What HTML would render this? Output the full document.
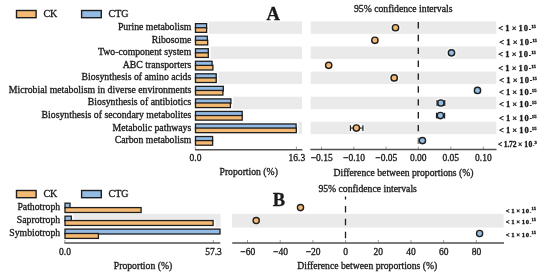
<!DOCTYPE html>
<html><head><meta charset="utf-8"><style>
html,body{margin:0;padding:0;background:#fff;width:550px;height:277px;overflow:hidden}
svg{display:block;filter:blur(0.35px)}
text{font-family:'Liberation Serif',serif;stroke:#1a1a1a;stroke-width:0.32px}
</style></head><body>
<svg width="550" height="277" viewBox="0 0 550 277">
<rect width="550" height="277" fill="#fff"/>
<rect x="16.5" y="10.5" width="19.6" height="7.2" fill="#F4B972" stroke="#1E1E1E" stroke-width="1.4"/>
<text x="43.4" y="17.3" font-size="10" fill="#1A1A1A">CK</text>
<rect x="81.6" y="10.5" width="19.7" height="7.2" fill="#93BBE3" stroke="#1E1E1E" stroke-width="1.4"/>
<text x="108.6" y="17.3" font-size="10" fill="#1A1A1A">CTG</text>
<text x="266.5" y="19.6" font-size="18.5" font-weight="bold" fill="#1A1A1A">A</text>
<text x="354" y="12.3" font-size="9.7" fill="#1A1A1A">95% confidence intervals</text>
<rect x="195" y="21.45" width="107" height="12.4" fill="#EBEAEA"/>
<rect x="310.7" y="21.45" width="185.6" height="12.4" fill="#EBEAEA"/>
<rect x="195" y="46.53" width="107" height="12.4" fill="#EBEAEA"/>
<rect x="310.7" y="46.53" width="185.6" height="12.4" fill="#EBEAEA"/>
<rect x="195" y="71.61" width="107" height="12.4" fill="#EBEAEA"/>
<rect x="310.7" y="71.61" width="185.6" height="12.4" fill="#EBEAEA"/>
<rect x="195" y="96.69" width="107" height="12.4" fill="#EBEAEA"/>
<rect x="310.7" y="96.69" width="185.6" height="12.4" fill="#EBEAEA"/>
<rect x="195" y="121.77" width="107" height="12.4" fill="#EBEAEA"/>
<rect x="310.7" y="121.77" width="185.6" height="12.4" fill="#EBEAEA"/>
<rect x="194" y="21.65" width="14.90" height="6.1" fill="#fff"/>
<rect x="194" y="27.75" width="14.90" height="6.1" fill="#fff"/>
<rect x="195.5" y="23.65" width="11.10" height="4.6" fill="#93BBE3" stroke="#1E1E1E" stroke-width="1.3"/>
<rect x="195.5" y="27.75" width="11.10" height="4.6" fill="#F4B972" stroke="#1E1E1E" stroke-width="1.3"/>
<text x="191.3" y="30.25" font-size="9.75" text-anchor="end" fill="#1A1A1A">Purine metabolism</text>
<rect x="194" y="34.19" width="15.60" height="6.1" fill="#fff"/>
<rect x="194" y="40.29" width="16.00" height="6.1" fill="#fff"/>
<rect x="195.5" y="36.19" width="11.80" height="4.6" fill="#93BBE3" stroke="#1E1E1E" stroke-width="1.3"/>
<rect x="195.5" y="40.29" width="12.20" height="4.6" fill="#F4B972" stroke="#1E1E1E" stroke-width="1.3"/>
<text x="191.3" y="42.79" font-size="9.75" text-anchor="end" fill="#1A1A1A">Ribosome</text>
<rect x="194" y="46.73" width="16.60" height="6.1" fill="#fff"/>
<rect x="194" y="52.83" width="16.60" height="6.1" fill="#fff"/>
<rect x="195.5" y="48.73" width="12.80" height="4.6" fill="#93BBE3" stroke="#1E1E1E" stroke-width="1.3"/>
<rect x="195.5" y="52.83" width="12.80" height="4.6" fill="#F4B972" stroke="#1E1E1E" stroke-width="1.3"/>
<text x="191.3" y="55.33" font-size="9.75" text-anchor="end" fill="#1A1A1A">Two-component system</text>
<rect x="194" y="59.27" width="20.40" height="6.1" fill="#fff"/>
<rect x="194" y="65.37" width="21.20" height="6.1" fill="#fff"/>
<rect x="195.5" y="61.27" width="16.60" height="4.6" fill="#93BBE3" stroke="#1E1E1E" stroke-width="1.3"/>
<rect x="195.5" y="65.37" width="17.40" height="4.6" fill="#F4B972" stroke="#1E1E1E" stroke-width="1.3"/>
<text x="191.3" y="67.87" font-size="9.75" text-anchor="end" fill="#1A1A1A">ABC transporters</text>
<rect x="194" y="71.81" width="24.50" height="6.1" fill="#fff"/>
<rect x="194" y="77.91" width="24.50" height="6.1" fill="#fff"/>
<rect x="195.5" y="73.81" width="20.70" height="4.6" fill="#93BBE3" stroke="#1E1E1E" stroke-width="1.3"/>
<rect x="195.5" y="77.91" width="20.70" height="4.6" fill="#F4B972" stroke="#1E1E1E" stroke-width="1.3"/>
<text x="191.3" y="80.41" font-size="9.75" text-anchor="end" fill="#1A1A1A">Biosynthesis of amino acids</text>
<rect x="194" y="84.35" width="31.60" height="6.1" fill="#fff"/>
<rect x="194" y="90.45" width="31.20" height="6.1" fill="#fff"/>
<rect x="195.5" y="86.35" width="27.80" height="4.6" fill="#93BBE3" stroke="#1E1E1E" stroke-width="1.3"/>
<rect x="195.5" y="90.45" width="27.40" height="4.6" fill="#F4B972" stroke="#1E1E1E" stroke-width="1.3"/>
<text x="191.3" y="92.95" font-size="9.75" text-anchor="end" fill="#1A1A1A">Microbial metabolism in diverse environments</text>
<rect x="194" y="96.89" width="39.20" height="6.1" fill="#fff"/>
<rect x="194" y="102.99" width="38.70" height="6.1" fill="#fff"/>
<rect x="195.5" y="98.89" width="35.40" height="4.6" fill="#93BBE3" stroke="#1E1E1E" stroke-width="1.3"/>
<rect x="195.5" y="102.99" width="34.90" height="4.6" fill="#F4B972" stroke="#1E1E1E" stroke-width="1.3"/>
<text x="191.3" y="105.49" font-size="9.75" text-anchor="end" fill="#1A1A1A">Biosynthesis of antibiotics</text>
<rect x="194" y="109.43" width="50.50" height="6.1" fill="#fff"/>
<rect x="194" y="115.53" width="50.50" height="6.1" fill="#fff"/>
<rect x="195.5" y="111.43" width="46.70" height="4.6" fill="#93BBE3" stroke="#1E1E1E" stroke-width="1.3"/>
<rect x="195.5" y="115.53" width="46.70" height="4.6" fill="#F4B972" stroke="#1E1E1E" stroke-width="1.3"/>
<text x="191.3" y="118.03" font-size="9.75" text-anchor="end" fill="#1A1A1A">Biosynthesis of secondary metabolites</text>
<rect x="194" y="121.97" width="104.40" height="6.1" fill="#fff"/>
<rect x="194" y="128.07" width="104.60" height="6.1" fill="#fff"/>
<rect x="195.5" y="123.97" width="100.60" height="4.6" fill="#93BBE3" stroke="#1E1E1E" stroke-width="1.3"/>
<rect x="195.5" y="128.07" width="100.80" height="4.6" fill="#F4B972" stroke="#1E1E1E" stroke-width="1.3"/>
<text x="191.3" y="130.57" font-size="9.75" text-anchor="end" fill="#1A1A1A">Metabolic pathways</text>
<rect x="194" y="134.51" width="20.90" height="6.1" fill="#fff"/>
<rect x="194" y="140.61" width="20.90" height="6.1" fill="#fff"/>
<rect x="195.5" y="136.51" width="17.10" height="4.6" fill="#93BBE3" stroke="#1E1E1E" stroke-width="1.3"/>
<rect x="195.5" y="140.61" width="17.10" height="4.6" fill="#F4B972" stroke="#1E1E1E" stroke-width="1.3"/>
<text x="191.3" y="143.11" font-size="9.75" text-anchor="end" fill="#1A1A1A">Carbon metabolism</text>
<line x1="418.3" y1="22" x2="418.3" y2="144" stroke="#1E1E1E" stroke-width="1.35" stroke-dasharray="6.4 6.46"/>
<circle cx="395.5" cy="27.75" r="5.6" fill="#fff" opacity="0.45"/>
<circle cx="395.5" cy="27.75" r="3.15" fill="#F4B972" stroke="#1E1E1E" stroke-width="1.4"/>
<text x="498.3" y="31.1" font-size="8.5" font-weight="bold" fill="#1A1A1A">&lt; 1 × <tspan letter-spacing="0.9">10</tspan><tspan font-size="5.5" dy="-0.4">-</tspan><tspan font-size="4.8" dx="0.4" dy="-2.6">15</tspan></text>
<circle cx="374.9" cy="40.29" r="5.6" fill="#fff" opacity="0.45"/>
<circle cx="374.9" cy="40.29" r="3.15" fill="#F4B972" stroke="#1E1E1E" stroke-width="1.4"/>
<text x="499.3" y="44.8" font-size="8.5" font-weight="bold" fill="#1A1A1A">&lt; 1 × <tspan letter-spacing="0.9">10</tspan><tspan font-size="5.5" dy="-0.4">-</tspan><tspan font-size="4.8" dx="0.4" dy="-2.6">15</tspan></text>
<circle cx="451.5" cy="52.83" r="5.6" fill="#fff" opacity="0.45"/>
<circle cx="451.5" cy="52.83" r="3.15" fill="#93BBE3" stroke="#1E1E1E" stroke-width="1.4"/>
<text x="498.3" y="56.9" font-size="8.5" font-weight="bold" fill="#1A1A1A">&lt; 1 × <tspan letter-spacing="0.9">10</tspan><tspan font-size="5.5" dy="-0.4">-</tspan><tspan font-size="4.8" dx="0.4" dy="-2.6">15</tspan></text>
<circle cx="328.7" cy="65.37" r="5.6" fill="#fff" opacity="0.45"/>
<circle cx="328.7" cy="65.37" r="3.15" fill="#F4B972" stroke="#1E1E1E" stroke-width="1.4"/>
<text x="498.3" y="70.6" font-size="8.5" font-weight="bold" fill="#1A1A1A">&lt; 1 × <tspan letter-spacing="0.9">10</tspan><tspan font-size="5.5" dy="-0.4">-</tspan><tspan font-size="4.8" dx="0.4" dy="-2.6">15</tspan></text>
<circle cx="394.2" cy="77.91" r="5.6" fill="#fff" opacity="0.45"/>
<circle cx="394.2" cy="77.91" r="3.15" fill="#F4B972" stroke="#1E1E1E" stroke-width="1.4"/>
<text x="499.3" y="82.6" font-size="8.5" font-weight="bold" fill="#1A1A1A">&lt; 1 × <tspan letter-spacing="0.9">10</tspan><tspan font-size="5.5" dy="-0.4">-</tspan><tspan font-size="4.8" dx="0.4" dy="-2.6">15</tspan></text>
<circle cx="477.5" cy="90.45" r="5.6" fill="#fff" opacity="0.45"/>
<circle cx="477.5" cy="90.45" r="3.15" fill="#93BBE3" stroke="#1E1E1E" stroke-width="1.4"/>
<text x="499" y="94.9" font-size="8.5" font-weight="bold" fill="#1A1A1A">&lt; 1 × <tspan letter-spacing="0.9">10</tspan><tspan font-size="5.5" dy="-0.4">-</tspan><tspan font-size="4.8" dx="0.4" dy="-2.6">15</tspan></text>
<circle cx="440.9" cy="102.99" r="5.6" fill="#fff" opacity="0.45"/>
<rect x="435.0" y="98.39" width="11.800000000000011" height="9.2" rx="3" fill="#fff" opacity="0.45"/>
<line x1="437.0" y1="102.99" x2="444.8" y2="102.99" stroke="#1E1E1E" stroke-width="1"/>
<line x1="437.0" y1="100.09" x2="437.0" y2="105.89" stroke="#1E1E1E" stroke-width="1.15"/>
<line x1="444.8" y1="100.09" x2="444.8" y2="105.89" stroke="#1E1E1E" stroke-width="1.15"/>
<circle cx="440.9" cy="102.99" r="3.15" fill="#93BBE3" stroke="#1E1E1E" stroke-width="1.4"/>
<text x="499" y="106.9" font-size="8.5" font-weight="bold" fill="#1A1A1A">&lt; 1 × <tspan letter-spacing="0.9">10</tspan><tspan font-size="5.5" dy="-0.4">-</tspan><tspan font-size="4.8" dx="0.4" dy="-2.6">15</tspan></text>
<circle cx="440.4" cy="115.53" r="5.6" fill="#fff" opacity="0.45"/>
<rect x="434.5" y="110.93" width="12.100000000000023" height="9.2" rx="3" fill="#fff" opacity="0.45"/>
<line x1="436.5" y1="115.53" x2="444.6" y2="115.53" stroke="#1E1E1E" stroke-width="1"/>
<line x1="436.5" y1="112.63" x2="436.5" y2="118.43" stroke="#1E1E1E" stroke-width="1.15"/>
<line x1="444.6" y1="112.63" x2="444.6" y2="118.43" stroke="#1E1E1E" stroke-width="1.15"/>
<circle cx="440.4" cy="115.53" r="3.15" fill="#93BBE3" stroke="#1E1E1E" stroke-width="1.4"/>
<text x="499" y="120.6" font-size="8.5" font-weight="bold" fill="#1A1A1A">&lt; 1 × <tspan letter-spacing="0.9">10</tspan><tspan font-size="5.5" dy="-0.4">-</tspan><tspan font-size="4.8" dx="0.4" dy="-2.6">15</tspan></text>
<circle cx="356.4" cy="128.07" r="5.6" fill="#fff" opacity="0.45"/>
<rect x="348.4" y="123.47" width="16.5" height="9.2" rx="3" fill="#fff" opacity="0.45"/>
<line x1="350.4" y1="128.07" x2="362.9" y2="128.07" stroke="#1E1E1E" stroke-width="1"/>
<line x1="350.4" y1="125.17" x2="350.4" y2="130.97" stroke="#1E1E1E" stroke-width="1.15"/>
<line x1="362.9" y1="125.17" x2="362.9" y2="130.97" stroke="#1E1E1E" stroke-width="1.15"/>
<circle cx="356.4" cy="128.07" r="3.15" fill="#F4B972" stroke="#1E1E1E" stroke-width="1.4"/>
<text x="499" y="133.2" font-size="8.5" font-weight="bold" fill="#1A1A1A">&lt; 1 × <tspan letter-spacing="0.9">10</tspan><tspan font-size="5.5" dy="-0.4">-</tspan><tspan font-size="4.8" dx="0.4" dy="-2.6">15</tspan></text>
<circle cx="422.4" cy="140.61" r="5.6" fill="#fff" opacity="0.45"/>
<circle cx="422.4" cy="140.61" r="3.15" fill="#93BBE3" stroke="#1E1E1E" stroke-width="1.4"/>
<text x="498" y="146.6" font-size="7.6" font-weight="bold" fill="#1A1A1A" letter-spacing="-0.2">&lt; 1.72 ×<tspan dx="2" letter-spacing="0.5">10</tspan><tspan font-size="5" dy="-0.3">-</tspan><tspan font-size="4.6" dx="0.3" dy="-2.6">3</tspan></text>
<line x1="195" y1="149.8" x2="302.3" y2="149.8" stroke="#505050" stroke-width="1.5"/>
<line x1="195.3" y1="146.6" x2="195.3" y2="149.8" stroke="#555" stroke-width="0.6"/>
<line x1="296.4" y1="146.6" x2="296.4" y2="149.8" stroke="#555" stroke-width="0.6"/>
<text x="195.5" y="161" font-size="9.5" text-anchor="middle" fill="#1A1A1A">0.0</text>
<text x="296.9" y="161" font-size="9.5" text-anchor="middle" fill="#1A1A1A">16.3</text>
<text x="248.7" y="175.3" font-size="9.7" text-anchor="middle" fill="#1A1A1A">Proportion (%)</text>
<line x1="310.3" y1="149.6" x2="496.5" y2="149.6" stroke="#505050" stroke-width="1.5"/>
<line x1="321.5" y1="146.6" x2="321.5" y2="149.6" stroke="#555" stroke-width="0.6"/>
<text x="321.75" y="161" font-size="9.5" text-anchor="middle" fill="#1A1A1A">−<tspan dx="0.5"></tspan>0.15</text>
<line x1="353.8" y1="146.6" x2="353.8" y2="149.6" stroke="#555" stroke-width="0.6"/>
<text x="354.05" y="161" font-size="9.5" text-anchor="middle" fill="#1A1A1A">−<tspan dx="0.5"></tspan>0.10</text>
<line x1="386.1" y1="146.6" x2="386.1" y2="149.6" stroke="#555" stroke-width="0.6"/>
<text x="386.35" y="161" font-size="9.5" text-anchor="middle" fill="#1A1A1A">−<tspan dx="0.5"></tspan>0.05</text>
<line x1="418.3" y1="146.6" x2="418.3" y2="149.6" stroke="#555" stroke-width="0.6"/>
<text x="418.3" y="161" font-size="9.5" text-anchor="middle" fill="#1A1A1A">0.00</text>
<line x1="450.8" y1="146.6" x2="450.8" y2="149.6" stroke="#555" stroke-width="0.6"/>
<text x="450.8" y="161" font-size="9.5" text-anchor="middle" fill="#1A1A1A">0.05</text>
<line x1="483.4" y1="146.6" x2="483.4" y2="149.6" stroke="#555" stroke-width="0.6"/>
<text x="483.4" y="161" font-size="9.5" text-anchor="middle" fill="#1A1A1A">0.10</text>
<text x="403.6" y="175.5" font-size="9.7" text-anchor="middle" fill="#1A1A1A">Difference between proportions (%)</text>
<rect x="16.5" y="190.5" width="19.6" height="7.2" fill="#F4B972" stroke="#1E1E1E" stroke-width="1.4"/>
<text x="43.4" y="197.3" font-size="10" fill="#1A1A1A">CK</text>
<rect x="81.6" y="190.5" width="19.7" height="7.2" fill="#93BBE3" stroke="#1E1E1E" stroke-width="1.4"/>
<text x="108.6" y="197.3" font-size="10" fill="#1A1A1A">CTG</text>
<text x="272.8" y="206.4" font-size="18.5" font-weight="bold" fill="#1A1A1A">B</text>
<text x="318.4" y="191.5" font-size="9.7" fill="#1A1A1A">95% confidence intervals</text>
<rect x="64.5" y="213.85" width="156" height="13.7" fill="#EBEAEA"/>
<rect x="232" y="213.85" width="271.6" height="13.7" fill="#EBEAEA"/>
<rect x="63.5" y="201.20" width="8.80" height="6.4" fill="#fff"/>
<rect x="63.5" y="207.60" width="79.90" height="6.4" fill="#fff"/>
<rect x="65" y="203.20" width="5.00" height="4.9" fill="#93BBE3" stroke="#1E1E1E" stroke-width="1.3"/>
<rect x="65" y="207.60" width="76.10" height="4.9" fill="#F4B972" stroke="#1E1E1E" stroke-width="1.3"/>
<text x="60.2" y="210.00" font-size="9.75" text-anchor="end" fill="#1A1A1A">Pathotroph</text>
<text x="505.8" y="212.8" font-size="6.7" font-weight="bold" fill="#1A1A1A">&lt; 1 × <tspan letter-spacing="0.6">10</tspan><tspan font-size="4.6" dy="-0.2">-</tspan><tspan font-size="4.4" dx="0.3" dy="-2.3">15</tspan></text>
<rect x="63.5" y="214.15" width="10.10" height="6.4" fill="#fff"/>
<rect x="63.5" y="220.55" width="151.90" height="6.4" fill="#fff"/>
<rect x="65" y="216.15" width="6.30" height="4.9" fill="#93BBE3" stroke="#1E1E1E" stroke-width="1.3"/>
<rect x="65" y="220.55" width="148.10" height="4.9" fill="#F4B972" stroke="#1E1E1E" stroke-width="1.3"/>
<text x="60.2" y="222.95" font-size="9.75" text-anchor="end" fill="#1A1A1A">Saprotroph</text>
<text x="505.8" y="223.7" font-size="6.7" font-weight="bold" fill="#1A1A1A">&lt; 1 × <tspan letter-spacing="0.6">10</tspan><tspan font-size="4.6" dy="-0.2">-</tspan><tspan font-size="4.4" dx="0.3" dy="-2.3">15</tspan></text>
<rect x="63.5" y="227.10" width="158.80" height="6.4" fill="#fff"/>
<rect x="63.5" y="233.50" width="37.20" height="6.4" fill="#fff"/>
<rect x="65" y="229.10" width="155.00" height="4.9" fill="#93BBE3" stroke="#1E1E1E" stroke-width="1.3"/>
<rect x="65" y="233.50" width="33.40" height="4.9" fill="#F4B972" stroke="#1E1E1E" stroke-width="1.3"/>
<text x="60.2" y="235.90" font-size="9.75" text-anchor="end" fill="#1A1A1A">Symbiotroph</text>
<text x="505.8" y="236.7" font-size="6.7" font-weight="bold" fill="#1A1A1A">&lt; 1 × <tspan letter-spacing="0.6">10</tspan><tspan font-size="4.6" dy="-0.2">-</tspan><tspan font-size="4.4" dx="0.3" dy="-2.3">15</tspan></text>
<line x1="345.5" y1="196.5" x2="345.5" y2="238.5" stroke="#1E1E1E" stroke-width="1.3" stroke-dasharray="6.5 6.4" stroke-dashoffset="3.5"/>
<circle cx="300.5" cy="207.60" r="3.1" fill="#F4B972" stroke="#1E1E1E" stroke-width="1.35"/>
<circle cx="256.2" cy="220.55" r="3.1" fill="#F4B972" stroke="#1E1E1E" stroke-width="1.35"/>
<circle cx="479.6" cy="233.50" r="3.1" fill="#93BBE3" stroke="#1E1E1E" stroke-width="1.35"/>
<line x1="64.5" y1="243.1" x2="220.3" y2="243.1" stroke="#505050" stroke-width="1.5"/>
<line x1="64.8" y1="240" x2="64.8" y2="243.1" stroke="#555" stroke-width="0.6"/>
<line x1="213.3" y1="240" x2="213.3" y2="243.1" stroke="#555" stroke-width="0.6"/>
<text x="65" y="254.5" font-size="9.5" text-anchor="middle" fill="#1A1A1A">0.0</text>
<text x="213.5" y="254.5" font-size="9.5" text-anchor="middle" fill="#1A1A1A">57.3</text>
<text x="143" y="269.3" font-size="9.7" text-anchor="middle" fill="#1A1A1A">Proportion (%)</text>
<line x1="232.2" y1="243.1" x2="504" y2="243.1" stroke="#505050" stroke-width="1.5"/>
<line x1="247.50" y1="240" x2="247.50" y2="243.1" stroke="#555" stroke-width="0.6"/>
<text x="247.75" y="254.5" font-size="9.5" text-anchor="middle" fill="#1A1A1A">−<tspan dx="0.5"></tspan>60</text>
<line x1="280.20" y1="240" x2="280.20" y2="243.1" stroke="#555" stroke-width="0.6"/>
<text x="280.45" y="254.5" font-size="9.5" text-anchor="middle" fill="#1A1A1A">−<tspan dx="0.5"></tspan>40</text>
<line x1="312.90" y1="240" x2="312.90" y2="243.1" stroke="#555" stroke-width="0.6"/>
<text x="313.15" y="254.5" font-size="9.5" text-anchor="middle" fill="#1A1A1A">−<tspan dx="0.5"></tspan>20</text>
<line x1="345.60" y1="240" x2="345.60" y2="243.1" stroke="#555" stroke-width="0.6"/>
<text x="345.60" y="254.5" font-size="9.5" text-anchor="middle" fill="#1A1A1A">0</text>
<line x1="378.30" y1="240" x2="378.30" y2="243.1" stroke="#555" stroke-width="0.6"/>
<text x="378.30" y="254.5" font-size="9.5" text-anchor="middle" fill="#1A1A1A">20</text>
<line x1="411.00" y1="240" x2="411.00" y2="243.1" stroke="#555" stroke-width="0.6"/>
<text x="411.00" y="254.5" font-size="9.5" text-anchor="middle" fill="#1A1A1A">40</text>
<line x1="443.70" y1="240" x2="443.70" y2="243.1" stroke="#555" stroke-width="0.6"/>
<text x="443.70" y="254.5" font-size="9.5" text-anchor="middle" fill="#1A1A1A">60</text>
<line x1="476.40" y1="240" x2="476.40" y2="243.1" stroke="#555" stroke-width="0.6"/>
<text x="476.40" y="254.5" font-size="9.5" text-anchor="middle" fill="#1A1A1A">80</text>
<text x="367.3" y="269" font-size="9.7" text-anchor="middle" fill="#1A1A1A">Difference between proportions (%)</text>
</svg>
</body></html>
